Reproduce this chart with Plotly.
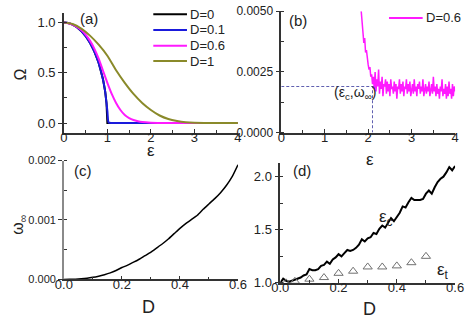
import plotly.graph_objects as go

# ---------------- data ----------------
# (a) order parameter Omega versus coupling epsilon for several noise strengths D
eps_d0 = [0, 0.1, 0.2, 0.3, 0.4, 0.5, 0.6, 0.7, 0.8, 0.85, 0.9, 0.95, 0.98, 1.0, 1.5, 2, 3, 4]
omega_d0 = [1, 0.995, 0.98, 0.954, 0.917, 0.866, 0.80, 0.714, 0.60, 0.527, 0.436, 0.312, 0.199, 0, 0, 0, 0, 0]

eps_d01 = [0, 0.1, 0.2, 0.3, 0.4, 0.5, 0.6, 0.7, 0.8, 0.9, 0.95, 1.0, 1.03, 1.1, 1.5, 2, 3, 4]
omega_d01 = [1, 0.995, 0.98, 0.953, 0.915, 0.864, 0.797, 0.71, 0.595, 0.43, 0.31, 0.12, 0.005, 0, 0, 0, 0, 0]

eps_d06 = [0, 0.2, 0.4, 0.5, 0.6, 0.7, 0.8, 0.9, 1.0, 1.1, 1.2, 1.3, 1.4, 1.5, 1.6, 1.7, 1.8, 2.0, 2.5, 3, 4]
omega_d06 = [1, 0.98, 0.925, 0.88, 0.82, 0.74, 0.64, 0.52, 0.40, 0.29, 0.20, 0.13, 0.08, 0.05, 0.03,
             0.018, 0.01, 0.004, 0.001, 0, 0]

eps_d1 = [0, 0.2, 0.4, 0.6, 0.8, 1.0, 1.2, 1.4, 1.6, 1.8, 2.0, 2.2, 2.4, 2.6, 2.8, 3.0, 4.0]
omega_d1 = [1, 0.985, 0.94, 0.87, 0.78, 0.67, 0.525, 0.40, 0.29, 0.20, 0.13, 0.075, 0.04, 0.02,
            0.008, 0.003, 0]

legend_a = ["D=0", "D=0.1", "D=0.6", "D=1"]

# (b) frequency spread for D=0.6 (values in units of 1e-3)
eps_b = [round(1.84 + 0.02 * i, 2) for i in range(109)]
omega_b_milli = [
    5.0, 4.5, 4.1, 3.7, 3.9, 3.3, 3.4, 2.9, 2.8, 2.6, 2.7, 2.3, 2.4, 2.0, 2.3, 1.8, 2.5, 1.7, 2.2, 1.9,
    2.6, 1.6, 2.1, 1.8, 2.3, 1.5, 2.0, 1.9, 2.2, 1.6, 2.1, 1.7, 2.0, 1.5, 2.2, 1.8, 1.9, 1.6, 2.1, 1.7,
    2.0, 1.4, 1.9, 1.8, 2.2, 1.6, 2.0, 1.7, 2.1, 1.5, 1.9, 1.8, 2.2, 1.6, 2.0, 1.7, 2.1, 1.5, 1.9, 2.0,
    1.6, 2.2, 1.7, 1.9, 1.5, 2.0, 1.8, 2.1, 1.6, 1.9, 1.7, 2.2, 1.5, 1.8, 2.0, 1.6, 1.9, 1.7, 2.1, 1.5,
    1.8, 2.0, 1.6, 2.3, 1.7, 1.9, 1.5, 2.0, 1.6, 1.8, 1.4, 1.9, 1.7, 2.2, 1.5, 1.8, 1.6, 2.0, 1.4, 1.9,
    1.5, 2.1, 1.6, 1.8, 1.4, 2.0, 1.5, 1.9, 1.7,
]
omega_b = [v * 1e-3 for v in omega_b_milli]
eps_c_mark = 2.1
omega_inf_mark = 0.0019

# (c) asymptotic frequency spread versus D (units of 1e-3)
d_c = [round(0.02 * i, 2) for i in range(31)]
omega_inf_milli = [0, 0.001, 0.004, 0.010, 0.020, 0.035, 0.055, 0.080, 0.110, 0.150, 0.200, 0.240,
                   0.290, 0.340, 0.400, 0.460, 0.530, 0.600, 0.680, 0.770, 0.860, 0.940, 1.010,
                   1.080, 1.180, 1.270, 1.360, 1.460, 1.580, 1.730, 1.930]
omega_inf = [v * 1e-3 for v in omega_inf_milli]

# (d) critical coupling eps_c and threshold eps_t versus D
d_d = [round(0.01 * i, 2) for i in range(61)]
eps_c = [1.00, 1.04, 1.02, 1.01, 1.02, 1.03, 1.04, 1.05, 1.07, 1.08, 1.13, 1.12, 1.12, 1.13, 1.16,
         1.17, 1.20, 1.18, 1.22, 1.24, 1.27, 1.25, 1.28, 1.31, 1.30, 1.31, 1.33, 1.36, 1.41, 1.39,
         1.42, 1.43, 1.47, 1.46, 1.51, 1.54, 1.52, 1.57, 1.61, 1.58, 1.62, 1.66, 1.72, 1.71, 1.76,
         1.80, 1.78, 1.78, 1.78, 1.79, 1.84, 1.87, 1.84, 1.90, 1.95, 1.98, 2.00, 2.04, 2.09, 2.06, 2.10]
d_t = [0.02, 0.05, 0.1, 0.15, 0.2, 0.25, 0.3, 0.35, 0.4, 0.45, 0.5]
eps_t = [1.0, 1.015, 1.035, 1.05, 1.09, 1.11, 1.15, 1.15, 1.16, 1.19, 1.25]

# ---------------- figure ----------------
W, H = 474, 326
FONT = "Liberation Sans, Arial, sans-serif"
AX = "#333333"
TXT = "#222222"
C_BLACK, C_BLUE, C_MAG, C_OLIVE = "black", "#1a1adc", "#ff1aff", "#8a8a2a"


def fx(p):
    return p / W


def fy(p):
    return 1 - p / H


fig = go.Figure()

# panel (a)
fig.add_trace(go.Scatter(x=eps_d0, y=omega_d0, mode="lines", name=legend_a[0],
                         line=dict(color=C_BLACK, width=2), xaxis="x", yaxis="y"))
fig.add_trace(go.Scatter(x=eps_d01, y=omega_d01, mode="lines", name=legend_a[1],
                         line=dict(color=C_BLUE, width=2, shape="spline", smoothing=0.6),
                         xaxis="x", yaxis="y"))
fig.add_trace(go.Scatter(x=eps_d06, y=omega_d06, mode="lines", name=legend_a[2],
                         line=dict(color=C_MAG, width=2, shape="spline", smoothing=0.8),
                         xaxis="x", yaxis="y"))
fig.add_trace(go.Scatter(x=eps_d1, y=omega_d1, mode="lines", name=legend_a[3],
                         line=dict(color=C_OLIVE, width=2, shape="spline", smoothing=0.8),
                         xaxis="x", yaxis="y"))

# panel (b)
fig.add_trace(go.Scatter(x=[0, eps_c_mark, eps_c_mark], y=[omega_inf_mark, omega_inf_mark, 0],
                         mode="lines",
                         line=dict(color="#6060b0", width=1, dash="3px,2px"), xaxis="x2", yaxis="y2"))
fig.add_trace(go.Scatter(x=eps_b, y=omega_b, mode="lines", name="D=0.6",
                         line=dict(color=C_MAG, width=1.5), xaxis="x2", yaxis="y2"))

# panel (c)
fig.add_trace(go.Scatter(x=d_c, y=omega_inf, mode="lines",
                         line=dict(color="black", width=1.5, shape="spline", smoothing=0.5),
                         xaxis="x3", yaxis="y3"))

# panel (d)
fig.add_trace(go.Scatter(x=d_d, y=eps_c, mode="lines",
                         line=dict(color="black", width=2), xaxis="x4", yaxis="y4"))
fig.add_trace(go.Scatter(x=d_t, y=eps_t, mode="markers",
                         marker=dict(symbol="triangle-up-open", size=8, color="#707070",
                                     line=dict(width=1)),
                         xaxis="x4", yaxis="y4", cliponaxis=True))


def xax(dom, rng, dtick, minor, anchor, fmt, size=13):
    return dict(domain=dom, range=rng, anchor=anchor, dtick=dtick, tick0=0, tickformat=fmt,
                showline=True, linecolor=AX, linewidth=1.5, showgrid=False, zeroline=False,
                ticks="inside", ticklen=4, tickcolor=AX, tickwidth=1, ticklabelstandoff=-8,
                minor=dict(dtick=minor, ticks="inside", ticklen=3, tickcolor=AX),
                tickfont=dict(family=FONT, size=size, color=TXT))


def yax(dom, rng, tickvals, minor, anchor, fmt, size=13, color=AX):
    return dict(domain=dom, range=rng, anchor=anchor, tickvals=tickvals, tickformat=fmt,
                showline=True, linecolor=color, linewidth=1.5, showgrid=False, zeroline=False,
                ticks="outside", ticklen=4, tickcolor=AX, tickwidth=1,
                minor=dict(dtick=minor, tick0=0, ticks="inside", ticklen=3, tickcolor=AX),
                tickfont=dict(family=FONT, size=size, color=TXT))


fig.update_layout(
    width=W, height=H,
    margin=dict(l=0, r=0, t=0, b=0),
    paper_bgcolor="white", plot_bgcolor="white",
    font=dict(family=FONT, color=TXT),
    showlegend=False,
    xaxis=xax([fx(57), fx(238)], [0, 4], 1, 0.5, "y", "d"),
    yaxis=yax([fy(132.8), fy(6.8)], [-0.1, 1.1], [0, 0.5, 1.0], 0.25, "x", ".1f"),
    xaxis2=xax([fx(283), fx(463.7)], [0, 4], 1, 0.5, "y2", "d"),
    yaxis2=yax([fy(132.3), fy(5.5)], [0, 0.005], [0, 0.0025, 0.005], 0.00125, "x2", ".4f", size=12),
    xaxis3=xax([fx(57), fx(238)], [0, 0.6], 0.2, 0.1, "y3", ".1f"),
    yaxis3=yax([fy(285.7), fy(161.5)], [0, 0.002], [0, 0.001, 0.002], 0.0005, "x3", ".3f",
               size=11, color="#8a8a8a"),
    xaxis4=xax([fx(282), fx(463.7)], [0, 0.6], 0.2, 0.1, "y4", ".1f"),
    yaxis4=yax([fy(289.3), fy(163.9)], [1.0, 2.13], [1.0, 1.5, 2.0], 0.25, "x4", ".1f"),
)

# legend keys: short line swatch followed by the label
legend_rows = [
    (legend_a[0], C_BLACK, 150, 185, 8.5),
    (legend_a[1], C_BLUE, 150, 185, 25),
    (legend_a[2], C_MAG, 150, 185, 41.5),
    (legend_a[3], C_OLIVE, 150, 185, 57.5),
    ("D=0.6", C_MAG, 395, 430, 12.5),
]
for label, color, x0, x1, y in legend_rows:
    fig.add_shape(type="line", xref="paper", yref="paper", x0=fx(x0), x1=fx(x1), y0=fy(y), y1=fy(y),
                  line=dict(color=color, width=2))
    fig.add_annotation(text=label, x=fx(x1 + 1), y=fy(y), xref="paper", yref="paper",
                       showarrow=False, xanchor="left", yanchor="middle",
                       font=dict(family=FONT, size=13, color=TXT))

ann = [
    # panel letters
    ("(a)", 83, 13, 15, 0), ("(b)", 300, 15, 15, 0), ("(c)", 77, 172, 15, 0), ("(d)", 305, 172, 15, 0),
    # axis titles
    ("ε", 148, 151, 17, 0), ("ε", 375, 160, 17, 0),
    ("Ω", 12, 72, 16, -90), ("ω<sub>∞</sub>", 10, 228, 16, -90),
    ("D", 145, 315, 18, 0), ("D", 375, 317, 18, 0),
    # in-plot labels
    ("(ε<sub>c</sub>,ω<sub>∞</sub>)", 360, 91, 14, 0),
    ("ε<sub>c</sub>", 392, 221, 17, 0), ("ε<sub>t</sub>", 451, 277, 17, 0),
]
for text, x, y, size, angle in ann:
    fig.add_annotation(text=text, x=fx(x), y=fy(y), xref="paper", yref="paper",
                       showarrow=False, textangle=angle, xanchor="center", yanchor="middle",
                       font=dict(family=FONT, size=size, color=TXT))

fig.write_html("out.html")
